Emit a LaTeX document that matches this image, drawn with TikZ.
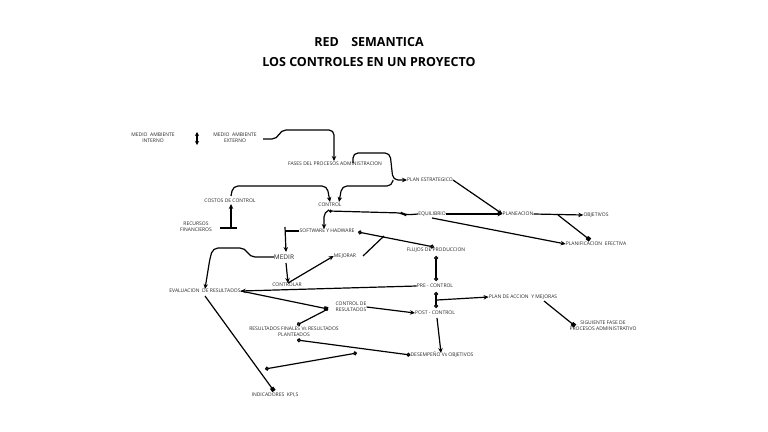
\documentclass[tikz,border=0pt]{standalone}
\usepackage{fontspec}
\setmainfont{Open Sans}
\usetikzlibrary{arrows.meta}
\begin{document}
\begin{tikzpicture}[x=1pt,y=-1pt,
  lbl/.style={font=\fontsize{5}{6}\selectfont,text=black!85,align=center,inner sep=0pt},
  con/.style={line width=1.2pt,rounded corners=5pt},
  ar/.style={con,-{Stealth[length=5pt,width=4.5pt]}},
  ci/.style={con,{Circle[open,length=4pt,line width=1.2pt]}-{Circle[open,length=4pt,line width=1.2pt]}},
  sq/.style={con,-{Square[length=4pt]}},
  ttl/.style={font=\fontsize{12.5}{15}\selectfont\bfseries,inner sep=0pt}]
\useasboundingbox[fill=white] (0,0) rectangle (768,431);
\node[ttl] (t1) at (369,42) {RED\quad SEMANTICA};
\node[ttl] (t2) at (369,62) {LOS CONTROLES EN UN PROYECTO};
\node[lbl] (mai) at (153,138) {MEDIO\ \ AMBIENTE\\INTERNO};
\node[lbl] (mae) at (235,138) {MEDIO\ \ AMBIENTE\\EXTERNO};
\node[lbl] (fases) at (335,164) {FASES DEL PROCESOS ADMINISTRACION};
\node[lbl] (plane) at (430,180) {PLAN ESTRATEGICO};
\node[lbl] (costos) at (230,201) {COSTOS DE CONTROL};
\node[lbl] (control) at (330,205) {CONTROL};
\node[lbl] (recur) at (196,227) {RECURSOS\\FINANCIEROS};
\node[lbl] (equi) at (432,214) {EQUILIBRIO};
\node[lbl] (planea) at (518,214) {PLANEACION};
\node[lbl] (obj) at (596,215) {OBJETIVOS};
\node[lbl] (plef) at (596,244) {PLANIFICACION\ \ EFECTIVA};
\node[lbl] (soft) at (327,231) {SOFTWARE Y HADWARE};
\node[lbl] (flujos) at (436,250) {FLUJOS DE PRODUCCION};
\node[lbl,font=\fontsize{6.5}{7}\selectfont] (medir) at (284,257) {MEDIR};
\node[lbl] (mejorar) at (345,256) {MEJORAR};
\node[lbl] (controlar) at (287,285) {CONTROLAR};
\node[lbl] (eval) at (205,291) {EVALUACION\ \ DE RESULTADOS};
\node[lbl] (pre) at (435,286) {PRE - CONTROL};
\node[lbl] (cres) at (351,307) {CONTROL DE\\RESULTADOS};
\node[lbl] (pacc) at (523,297) {PLAN DE ACCION\ \ Y MEJORAS};
\node[lbl] (post) at (435,313) {POST - CONTROL};
\node[lbl] (sig) at (603,326) {SIGUIENTE FASE DE\\PROCESOS ADMINISTRATIVO};
\node[lbl] (rfin) at (294,332) {RESULTADOS FINALES Vs RESULTADOS\\PLANTEADOS};
\node[lbl] (des) at (442,355) {DESEMPEÑO Vs OBJETIVOS};
\node[lbl] (kpi) at (275,395) {INDICADORES\ \ KPI,S};
\coordinate (p1) at (265,369);
\coordinate (p2) at (357,353);
% connectors
\draw[con,{Stealth[length=4pt,width=4pt]}-{Stealth[length=4pt,width=4pt]}] (197,132) -- (197,145);
\draw[ar] (263,139) -- (277,139) -- (281,130) -- (334,130) -- (334,161);
\draw[ar] (353,163) -- (353,153) -- (390,153) -- (393,180) -- (plane.west);
\draw[ar] (393,180) -- (392,186) -- (342,186) -- (339,202);
\draw[ar] (231,196) -- (233,186) -- (327,186) -- (330,202);
\draw[con] (220,228) -- (237,228);
\draw[ar] (231,228) -- (231,204);
\draw[ar] (329,210) -- (324,212) -- (324,229);
\draw[con,{Circle[open,length=3pt,line width=1.2pt]}-] (329,211) -- (402,213) -- (405,215) -- (equi.west);
\draw[ar] (equi.east) -- (planea.west);
\draw[ar] (432,218) -- (plef.west);
\draw[ar] (plane.east) -- (planea.west);
\draw[ar] (planea.east) -- (obj.west);
\draw[sq] (558,215) -- (590,240);
\draw[con] (285,231) -- (soft.west);
\draw[ar] (285,227) -- (286,252);
\draw[ci] (358,232) -- (434,247);
\draw[con] (363,256) -- (384,236);
\draw[ar] (medir.west) -- (250,257) -- (245,248) -- (213,248) -- (210,258) -- (205,289);
\draw[ar] (286,263) -- (288,283);
\draw[ar] (288,283) -- (mejorar.west);
\draw[ci] (436,256) -- (436,281);
\draw[ar] (pre.west) -- (eval.east);
\draw[sq] (eval.east) -- (328,309);
\draw[con,-{Circle[open,length=4pt,line width=1.2pt]}] (328,309) -- (297,325);
\draw[ar] (cres.east) -- (post.west);
\draw[ci] (436,292) -- (436,308);
\draw[ar] (437,300) -- (pacc.west);
\draw[sq] (544,301) -- (575,326);
\draw[ar] (437,318) -- (441,353);
\draw[ci] (297,340) -- (des.west);
\draw[ci] (p1) -- (p2);
\draw[sq] (205,296) -- (274,391);
\end{tikzpicture}
\end{document}
